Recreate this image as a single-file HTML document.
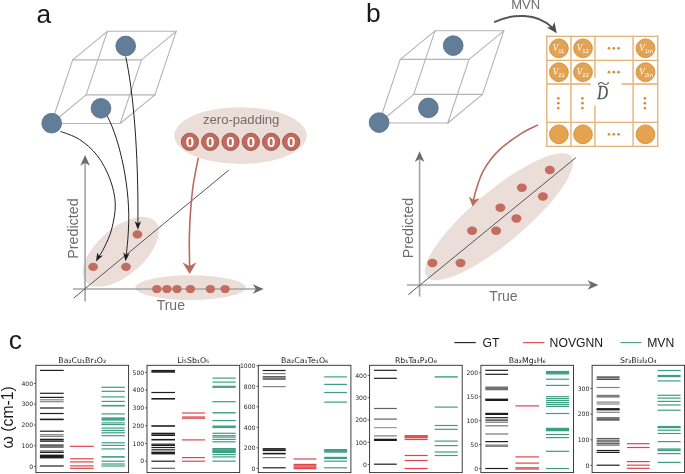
<!DOCTYPE html>
<html><head><meta charset="utf-8"><title>figure</title>
<style>
html,body{margin:0;padding:0;background:#fff;}
body{width:685px;height:474px;overflow:hidden;}
svg{display:block;}
.s{font-family:"Liberation Sans",sans-serif;}
.d{font-family:"DejaVu Sans","Liberation Sans",sans-serif;}
.m{font-family:"Liberation Serif",serif;font-style:italic;}
</style></head><body>
<svg width="685" height="474" viewBox="0 0 685 474">
<rect width="685" height="474" fill="#ffffff"/>
<!-- panel a -->
<text class="s" x="36.6" y="23.2" font-size="26.2" fill="#1a1a1a">a</text>
<g stroke="#b4b4b4" stroke-width="1.1" fill="none" stroke-linecap="round"><line x1="51.4" y1="123.5" x2="120.2" y2="123.5"/><line x1="86.1" y1="94.9" x2="154.9" y2="94.9"/><line x1="72.7" y1="59.9" x2="141.5" y2="59.9"/><line x1="107.4" y1="31.3" x2="176.2" y2="31.3"/><line x1="51.4" y1="123.5" x2="72.7" y2="59.9"/><line x1="86.1" y1="94.9" x2="107.4" y2="31.3"/><line x1="120.2" y1="123.5" x2="141.5" y2="59.9"/><line x1="154.9" y1="94.9" x2="176.2" y2="31.3"/><line x1="51.4" y1="123.5" x2="86.1" y2="94.9"/><line x1="72.7" y1="59.9" x2="107.4" y2="31.3"/><line x1="120.2" y1="123.5" x2="154.9" y2="94.9"/><line x1="141.5" y1="59.9" x2="176.2" y2="31.3"/></g>
<ellipse cx="120.8" cy="251.8" rx="46" ry="23.5" transform="rotate(-41 120.8 251.8)" fill="#ebddd8"/>
<ellipse cx="190.6" cy="287.6" rx="55.3" ry="12.3" fill="#ebddd8"/>
<ellipse cx="240.5" cy="135.6" rx="66.2" ry="28.4" fill="#ebddd8"/>
<g stroke="#a4a4a4" stroke-width="1.6" fill="none"><line x1="85.1" y1="301.4" x2="85.1" y2="163"/><line x1="72.9" y1="289" x2="256" y2="289"/></g>
<path d="M85.1 155 L89.9 165.8 L85.1 162.8 L80.3 165.8 Z" fill="#6c6c6c"/>
<path d="M263.6 289 L252.8 293.8 L255.8 289 L252.8 284.2 Z" fill="#6c6c6c"/>
<line x1="73.8" y1="298" x2="228.7" y2="170.2" stroke="#555" stroke-width="1"/>
<ellipse cx="93.1" cy="266.8" rx="4.9" ry="4.1" fill="#c36d61"/><ellipse cx="126.0" cy="266.8" rx="4.9" ry="4.1" fill="#c36d61"/><ellipse cx="137.4" cy="234.4" rx="4.9" ry="4.1" fill="#c36d61"/><ellipse cx="156.8" cy="289" rx="4.7" ry="4.1" fill="#c36d61"/><ellipse cx="166.9" cy="289" rx="4.7" ry="4.1" fill="#c36d61"/><ellipse cx="177.0" cy="289" rx="4.7" ry="4.1" fill="#c36d61"/><ellipse cx="190.4" cy="289" rx="4.7" ry="4.1" fill="#c36d61"/><ellipse cx="210.4" cy="289" rx="4.7" ry="4.1" fill="#c36d61"/><ellipse cx="225.1" cy="289" rx="4.7" ry="4.1" fill="#c36d61"/>
<g stroke="#222" stroke-width="1.0" fill="none"><path d="M60.5 131.4 C63.6 132.7 73.3 135.4 79.4 139.4 C85.5 143.4 92.2 149.0 97.3 155.6 C102.4 162.2 106.9 170.8 109.9 178.9 C112.9 187.0 115.0 195.6 115.3 203.9 C115.6 212.2 113.5 221.8 111.7 229.0 C109.9 236.2 106.7 242.2 104.5 247.0 C102.3 251.8 99.3 255.8 98.3 257.5"/><path d="M107.3 116.2 C120 140 131 190 128.4 230 C127.8 242 126.8 250 126 256.5"/><path d="M125.7 56.7 C133 90 138.6 150 137.9 225.5"/></g>
<path transform="translate(96.0 261.4) rotate(119.0)" d="M0 0 L-8.5 3.2 L-6.3 0 L-8.5 -3.2 Z" fill="#1c1c1c"/><path transform="translate(125.5 261.3) rotate(96.0)" d="M0 0 L-8.5 3.2 L-6.3 0 L-8.5 -3.2 Z" fill="#1c1c1c"/><path transform="translate(137.9 229.7) rotate(90.0)" d="M0 0 L-8.5 3.2 L-6.3 0 L-8.5 -3.2 Z" fill="#1c1c1c"/>
<circle cx="125.7" cy="46.0" r="9.9" fill="#627d97" stroke="#4f667c" stroke-width="0.7"/><circle cx="51.7" cy="123.2" r="9.9" fill="#627d97" stroke="#4f667c" stroke-width="0.7"/><circle cx="101.0" cy="108.3" r="9.9" fill="#627d97" stroke="#4f667c" stroke-width="0.7"/>
<text class="s" x="241.2" y="124" font-size="13.1" fill="#6e6e6e" text-anchor="middle">zero-padding</text>
<circle cx="189.9" cy="141.8" r="8.6" fill="#c16a5e" stroke="#99544b" stroke-width="0.9"/><text class="s" x="189.9" y="147.2" font-size="15" font-weight="bold" fill="#fff" text-anchor="middle">0</text><circle cx="210.2" cy="141.8" r="8.6" fill="#c16a5e" stroke="#99544b" stroke-width="0.9"/><text class="s" x="210.2" y="147.2" font-size="15" font-weight="bold" fill="#fff" text-anchor="middle">0</text><circle cx="230.5" cy="141.8" r="8.6" fill="#c16a5e" stroke="#99544b" stroke-width="0.9"/><text class="s" x="230.5" y="147.2" font-size="15" font-weight="bold" fill="#fff" text-anchor="middle">0</text><circle cx="250.8" cy="141.8" r="8.6" fill="#c16a5e" stroke="#99544b" stroke-width="0.9"/><text class="s" x="250.8" y="147.2" font-size="15" font-weight="bold" fill="#fff" text-anchor="middle">0</text><circle cx="271.1" cy="141.8" r="8.6" fill="#c16a5e" stroke="#99544b" stroke-width="0.9"/><text class="s" x="271.1" y="147.2" font-size="15" font-weight="bold" fill="#fff" text-anchor="middle">0</text><circle cx="291.2" cy="141.8" r="8.6" fill="#c16a5e" stroke="#99544b" stroke-width="0.9"/><text class="s" x="291.2" y="147.2" font-size="15" font-weight="bold" fill="#fff" text-anchor="middle">0</text>
<path d="M198.3 157.8 C197.5 162.3 194.5 176.0 193.2 185.0 C191.9 194.0 191.2 202.8 190.5 212.0 C189.8 221.2 189.5 231.0 189.3 240.0 C189.2 249.0 189.6 261.7 189.6 266.0" stroke="#b96b5e" stroke-width="1.6" fill="none"/>
<path transform="translate(189.7 273.9) rotate(89.0)" d="M0 0 L-11.5 7.0 L-8.0 0 L-11.5 -7.0 Z" fill="#b96b5e"/>
<text class="s" x="170.8" y="310.4" font-size="14" fill="#6e6e6e" text-anchor="middle">True</text>
<text class="s" transform="translate(77.6 228.6) rotate(-90)" font-size="14.3" fill="#6e6e6e" text-anchor="middle">Predicted</text>
<!-- panel b -->
<text class="s" x="366" y="21.6" font-size="26.4" fill="#1a1a1a">b</text>
<g stroke="#b4b4b4" stroke-width="1.1" fill="none" stroke-linecap="round"><line x1="379.0" y1="123.0" x2="447.8" y2="123.0"/><line x1="413.7" y1="94.4" x2="482.5" y2="94.4"/><line x1="400.3" y1="59.4" x2="469.1" y2="59.4"/><line x1="435.0" y1="30.8" x2="503.8" y2="30.8"/><line x1="379.0" y1="123.0" x2="400.3" y2="59.4"/><line x1="413.7" y1="94.4" x2="435.0" y2="30.8"/><line x1="447.8" y1="123.0" x2="469.1" y2="59.4"/><line x1="482.5" y1="94.4" x2="503.8" y2="30.8"/><line x1="379.0" y1="123.0" x2="413.7" y2="94.4"/><line x1="400.3" y1="59.4" x2="435.0" y2="30.8"/><line x1="447.8" y1="123.0" x2="482.5" y2="94.4"/><line x1="469.1" y1="59.4" x2="503.8" y2="30.8"/></g>
<ellipse cx="499" cy="216.8" rx="94" ry="26" transform="rotate(-39.9 499 216.8)" fill="#ebddd8"/>
<g stroke="#a4a4a4" stroke-width="1.6" fill="none"><line x1="419.6" y1="296.6" x2="419.6" y2="159"/><line x1="407" y1="285" x2="590" y2="285"/></g>
<path d="M419.6 151.3 L424.4 162.1 L419.6 159.1 L414.8 162.1 Z" fill="#6c6c6c"/>
<path d="M598.4 285 L587.6 289.8 L590.6 285 L587.6 280.2 Z" fill="#6c6c6c"/>
<line x1="408.3" y1="294.6" x2="575.9" y2="157.6" stroke="#555" stroke-width="1"/>
<ellipse cx="432.4" cy="263.0" rx="5" ry="4.2" fill="#c36d61"/><ellipse cx="460.5" cy="263.0" rx="5" ry="4.2" fill="#c36d61"/><ellipse cx="472.1" cy="230.7" rx="5" ry="4.2" fill="#c36d61"/><ellipse cx="496.1" cy="230.7" rx="5" ry="4.2" fill="#c36d61"/><ellipse cx="500.4" cy="207.7" rx="5" ry="4.2" fill="#c36d61"/><ellipse cx="516.4" cy="218.5" rx="5" ry="4.2" fill="#c36d61"/><ellipse cx="521.9" cy="187.7" rx="5" ry="4.2" fill="#c36d61"/><ellipse cx="542.9" cy="196.5" rx="5" ry="4.2" fill="#c36d61"/><ellipse cx="549.8" cy="170.0" rx="5" ry="4.2" fill="#c36d61"/>
<circle cx="453.2" cy="45.6" r="9.9" fill="#627d97" stroke="#4f667c" stroke-width="0.7"/><circle cx="379.1" cy="122.6" r="9.9" fill="#627d97" stroke="#4f667c" stroke-width="0.7"/><circle cx="428.4" cy="107.9" r="9.9" fill="#627d97" stroke="#4f667c" stroke-width="0.7"/>
<text class="s" x="525.7" y="8.6" font-size="13" fill="#6e6e6e" text-anchor="middle">MVN</text>
<path d="M494.2 22.2 C512 13.6 537 12.4 552 27.5" stroke="#555" stroke-width="2" fill="none"/>
<path transform="translate(556.8 33.2) rotate(54.0)" d="M0 0 L-10.5 4.7 L-7.7 0 L-10.5 -4.7 Z" fill="#4d4d4d"/>
<path d="M538.1 124.9 C535.3 126.3 528.0 129.1 521.5 133.3 C515.0 137.5 505.6 143.8 499.3 149.9 C493.0 156.0 487.7 163.2 483.8 169.9 C479.9 176.6 477.8 184.8 476.1 189.8 C474.4 194.8 474.0 198.3 473.6 200.0" stroke="#b96b5e" stroke-width="1.6" fill="none"/>
<path transform="translate(472.6 206.6) rotate(100.0)" d="M0 0 L-9.4 5.5 L-6.6 0 L-9.4 -5.5 Z" fill="#b96b5e"/>
<text class="s" x="503.5" y="301" font-size="14" fill="#6e6e6e" text-anchor="middle">True</text>
<text class="s" transform="translate(413.2 228.1) rotate(-90)" font-size="14.3" fill="#6e6e6e" text-anchor="middle">Predicted</text>
<g stroke="#e0a864" stroke-width="1.3" fill="none"><line x1="546.8" y1="35.6" x2="546.8" y2="147.0"/><line x1="570.9" y1="35.6" x2="570.9" y2="147.0"/><line x1="594.9" y1="35.6" x2="594.9" y2="147.0"/><line x1="633.1" y1="35.6" x2="633.1" y2="147.0"/><line x1="657.7" y1="35.6" x2="657.7" y2="147.0"/><line x1="546.1" y1="36.3" x2="658.4" y2="36.3"/><line x1="546.1" y1="60.3" x2="658.4" y2="60.3"/><line x1="546.1" y1="84.0" x2="658.4" y2="84.0"/><line x1="546.1" y1="122.3" x2="658.4" y2="122.3"/><line x1="546.1" y1="146.3" x2="658.4" y2="146.3"/></g>
<g stroke="#f3dcbd" stroke-width="0.3" fill="none"><line x1="546.8" y1="36.1" x2="546.8" y2="146.5"/><line x1="570.9" y1="36.1" x2="570.9" y2="146.5"/><line x1="594.9" y1="36.1" x2="594.9" y2="146.5"/><line x1="633.1" y1="36.1" x2="633.1" y2="146.5"/><line x1="657.7" y1="36.1" x2="657.7" y2="146.5"/><line x1="546.6" y1="36.3" x2="657.9" y2="36.3"/><line x1="546.6" y1="60.3" x2="657.9" y2="60.3"/><line x1="546.6" y1="84.0" x2="657.9" y2="84.0"/><line x1="546.6" y1="122.3" x2="657.9" y2="122.3"/><line x1="546.6" y1="146.3" x2="657.9" y2="146.3"/></g>
<rect x="590.8" y="77.9" width="30.6" height="27.5" fill="#fff"/>
<circle cx="558.9" cy="48.3" r="9.4" fill="#e3a350" stroke="#c98a36" stroke-width="0.8"/><circle cx="583.0" cy="48.3" r="9.4" fill="#e3a350" stroke="#c98a36" stroke-width="0.8"/><circle cx="645.5" cy="48.3" r="9.4" fill="#e3a350" stroke="#c98a36" stroke-width="0.8"/><circle cx="558.9" cy="72.2" r="9.4" fill="#e3a350" stroke="#c98a36" stroke-width="0.8"/><circle cx="583.0" cy="72.2" r="9.4" fill="#e3a350" stroke="#c98a36" stroke-width="0.8"/><circle cx="645.5" cy="72.2" r="9.4" fill="#e3a350" stroke="#c98a36" stroke-width="0.8"/><circle cx="558.9" cy="134.3" r="9.4" fill="#e3a350" stroke="#c98a36" stroke-width="0.8"/><circle cx="583.0" cy="134.3" r="9.4" fill="#e3a350" stroke="#c98a36" stroke-width="0.8"/><circle cx="645.5" cy="134.3" r="9.4" fill="#e3a350" stroke="#c98a36" stroke-width="0.8"/>
<text class="m" transform="translate(552.7 51.2) scale(0.84 1)" font-size="10.6" fill="#fff">V</text><text class="s" x="558.2" y="53.3" font-size="5.9" fill="#fff">11</text><text class="m" transform="translate(576.8 51.2) scale(0.84 1)" font-size="10.6" fill="#fff">V</text><text class="s" x="582.3" y="53.3" font-size="5.9" fill="#fff">12</text><text class="m" transform="translate(639.3 51.2) scale(0.84 1)" font-size="10.6" fill="#fff">V</text><text class="s" x="644.8" y="53.3" font-size="5.9" fill="#fff">1m</text><text class="m" transform="translate(552.7 75.1) scale(0.84 1)" font-size="10.6" fill="#fff">V</text><text class="s" x="558.2" y="77.2" font-size="5.9" fill="#fff">21</text><text class="m" transform="translate(576.8 75.1) scale(0.84 1)" font-size="10.6" fill="#fff">V</text><text class="s" x="582.3" y="77.2" font-size="5.9" fill="#fff">22</text><text class="m" transform="translate(639.3 75.1) scale(0.84 1)" font-size="10.6" fill="#fff">V</text><text class="s" x="644.8" y="77.2" font-size="5.9" fill="#fff">2m</text>
<g fill="#d08f3c"><circle cx="609.0" cy="48.3" r="1.35"/><circle cx="613.8" cy="48.3" r="1.35"/><circle cx="618.6" cy="48.3" r="1.35"/><circle cx="609.0" cy="72.2" r="1.35"/><circle cx="613.8" cy="72.2" r="1.35"/><circle cx="618.6" cy="72.2" r="1.35"/><circle cx="609.0" cy="134.3" r="1.35"/><circle cx="613.8" cy="134.3" r="1.35"/><circle cx="618.6" cy="134.3" r="1.35"/><circle cx="558.3" cy="98.3" r="1.35"/><circle cx="558.3" cy="103.2" r="1.35"/><circle cx="558.3" cy="108.1" r="1.35"/><circle cx="582.4" cy="98.3" r="1.35"/><circle cx="582.4" cy="103.2" r="1.35"/><circle cx="582.4" cy="108.1" r="1.35"/><circle cx="644.9" cy="98.3" r="1.35"/><circle cx="644.9" cy="103.2" r="1.35"/><circle cx="644.9" cy="108.1" r="1.35"/></g>
<text class="m" transform="translate(597.2 99) scale(0.8 1)" font-size="18.6" fill="#555" stroke="#555" stroke-width="0.35">D</text>
<text class="m" transform="translate(603.2 89.2) scale(1.42 1.0)" font-size="16" fill="#555" font-style="normal" text-anchor="middle">~</text>
<!-- panel c -->
<text class="s" x="8.8" y="348.6" font-size="26.4" fill="#1a1a1a">c</text>
<text class="s" transform="translate(12.7 417.3) rotate(-90)" font-size="15.8" fill="#1a1a1a" text-anchor="middle">ω (cm-1)</text>
<line x1="454.3" y1="342.6" x2="475.8" y2="342.6" stroke="#1a1a1a" stroke-width="1.1"/><text class="s" x="482.6" y="347" font-size="12.2" fill="#1a1a1a">GT</text><line x1="523.0" y1="342.6" x2="544.4" y2="342.6" stroke="#e0474c" stroke-width="1.1"/><text class="s" x="549.6" y="347" font-size="12.2" fill="#1a1a1a">NOVGNN</text><line x1="620.6" y1="342.6" x2="641.4" y2="342.6" stroke="#3f9f83" stroke-width="1.1"/><text class="s" x="647.2" y="347" font-size="12.2" fill="#1a1a1a">MVN</text>
<g><rect x="35.9" y="365.3" width="92.7" height="107.3" fill="#fff" stroke="#2a2a2a" stroke-width="0.9"/><text class="d" x="82.2" y="363.1" font-size="7.8" fill="#1a1a1a" text-anchor="middle">Ba₂Cu₁Br₁O₂</text><line x1="34.0" y1="466.5" x2="35.9" y2="466.5" stroke="#2a2a2a" stroke-width="0.7"/><text class="d" x="33.1" y="468.7" font-size="6.1" fill="#262626" text-anchor="end">0</text><line x1="34.0" y1="445.8" x2="35.9" y2="445.8" stroke="#2a2a2a" stroke-width="0.7"/><text class="d" x="33.1" y="447.9" font-size="6.1" fill="#262626" text-anchor="end">100</text><line x1="34.0" y1="425.0" x2="35.9" y2="425.0" stroke="#2a2a2a" stroke-width="0.7"/><text class="d" x="33.1" y="427.2" font-size="6.1" fill="#262626" text-anchor="end">200</text><line x1="34.0" y1="404.2" x2="35.9" y2="404.2" stroke="#2a2a2a" stroke-width="0.7"/><text class="d" x="33.1" y="406.4" font-size="6.1" fill="#262626" text-anchor="end">300</text><line x1="34.0" y1="383.5" x2="35.9" y2="383.5" stroke="#2a2a2a" stroke-width="0.7"/><text class="d" x="33.1" y="385.7" font-size="6.1" fill="#262626" text-anchor="end">400</text><line x1="39.9" y1="370.40" x2="63.7" y2="370.40" stroke="#1e1e1e" stroke-width="1.2"/><line x1="39.9" y1="393.30" x2="63.7" y2="393.30" stroke="#1e1e1e" stroke-width="1.2"/><line x1="39.9" y1="397.40" x2="63.7" y2="397.40" stroke="#1e1e1e" stroke-width="1.2"/><line x1="39.9" y1="399.80" x2="63.7" y2="399.80" stroke="#1e1e1e" stroke-width="1.2" stroke-opacity="0.55"/><line x1="39.9" y1="401.70" x2="63.7" y2="401.70" stroke="#1e1e1e" stroke-width="1.2" stroke-opacity="0.55"/><line x1="39.9" y1="408.00" x2="63.7" y2="408.00" stroke="#1e1e1e" stroke-width="1.2"/><line x1="39.9" y1="413.50" x2="63.7" y2="413.50" stroke="#1e1e1e" stroke-width="1.2"/><line x1="39.9" y1="419.40" x2="63.7" y2="419.40" stroke="#1e1e1e" stroke-width="1.6"/><line x1="39.9" y1="431.20" x2="63.7" y2="431.20" stroke="#1e1e1e" stroke-width="1.2"/><line x1="39.9" y1="434.70" x2="63.7" y2="434.70" stroke="#1e1e1e" stroke-width="1.2" stroke-opacity="0.55"/><line x1="39.9" y1="436.40" x2="63.7" y2="436.40" stroke="#1e1e1e" stroke-width="1.2" stroke-opacity="0.55"/><line x1="39.9" y1="439.40" x2="63.7" y2="439.40" stroke="#1e1e1e" stroke-width="1.4"/><line x1="39.9" y1="441.10" x2="63.7" y2="441.10" stroke="#1e1e1e" stroke-width="1.4"/><line x1="39.9" y1="445.10" x2="63.7" y2="445.10" stroke="#1e1e1e" stroke-width="1.2"/><line x1="39.9" y1="447.00" x2="63.7" y2="447.00" stroke="#1e1e1e" stroke-width="1.2"/><line x1="39.9" y1="451.00" x2="63.7" y2="451.00" stroke="#1e1e1e" stroke-width="1.2" stroke-opacity="0.75"/><line x1="39.9" y1="452.40" x2="63.7" y2="452.40" stroke="#1e1e1e" stroke-width="1.2"/><line x1="39.9" y1="455.30" x2="63.7" y2="455.30" stroke="#1e1e1e" stroke-width="1.4"/><line x1="39.9" y1="456.50" x2="63.7" y2="456.50" stroke="#1e1e1e" stroke-width="1.4"/><line x1="39.9" y1="457.70" x2="63.7" y2="457.70" stroke="#1e1e1e" stroke-width="1.4"/><line x1="39.9" y1="466.00" x2="63.7" y2="466.00" stroke="#1e1e1e" stroke-width="1.2"/><line x1="70.1" y1="446.30" x2="93.7" y2="446.30" stroke="#e0444a" stroke-width="1.2"/><line x1="70.1" y1="458.80" x2="93.7" y2="458.80" stroke="#e0444a" stroke-width="1.2"/><line x1="70.1" y1="461.90" x2="93.7" y2="461.90" stroke="#e0444a" stroke-width="1.2"/><line x1="70.1" y1="465.90" x2="93.7" y2="465.90" stroke="#e0444a" stroke-width="1.2"/><line x1="70.1" y1="468.30" x2="93.7" y2="468.30" stroke="#e0444a" stroke-width="1.2"/><line x1="101.5" y1="387.30" x2="124.8" y2="387.30" stroke="#3c9f82" stroke-width="1.2"/><line x1="101.5" y1="391.30" x2="124.8" y2="391.30" stroke="#3c9f82" stroke-width="1.2"/><line x1="101.5" y1="396.90" x2="124.8" y2="396.90" stroke="#3c9f82" stroke-width="1.2"/><line x1="101.5" y1="401.40" x2="124.8" y2="401.40" stroke="#3c9f82" stroke-width="1.2"/><line x1="101.5" y1="405.70" x2="124.8" y2="405.70" stroke="#3c9f82" stroke-width="1.6"/><line x1="101.5" y1="413.90" x2="124.8" y2="413.90" stroke="#3c9f82" stroke-width="1.2"/><line x1="101.5" y1="418.20" x2="124.8" y2="418.20" stroke="#3c9f82" stroke-width="1.6"/><line x1="101.5" y1="419.90" x2="124.8" y2="419.90" stroke="#3c9f82" stroke-width="1.6"/><line x1="101.5" y1="422.90" x2="124.8" y2="422.90" stroke="#3c9f82" stroke-width="1.2"/><line x1="101.5" y1="424.60" x2="124.8" y2="424.60" stroke="#3c9f82" stroke-width="1.2"/><line x1="101.5" y1="428.10" x2="124.8" y2="428.10" stroke="#3c9f82" stroke-width="1.2"/><line x1="101.5" y1="430.50" x2="124.8" y2="430.50" stroke="#3c9f82" stroke-width="1.2"/><line x1="101.5" y1="432.80" x2="124.8" y2="432.80" stroke="#3c9f82" stroke-width="1.2"/><line x1="101.5" y1="435.70" x2="124.8" y2="435.70" stroke="#3c9f82" stroke-width="1.2"/><line x1="101.5" y1="442.80" x2="124.8" y2="442.80" stroke="#3c9f82" stroke-width="1.2"/><line x1="101.5" y1="445.40" x2="124.8" y2="445.40" stroke="#3c9f82" stroke-width="1.2"/><line x1="101.5" y1="448.90" x2="124.8" y2="448.90" stroke="#3c9f82" stroke-width="1.2"/><line x1="101.5" y1="456.90" x2="124.8" y2="456.90" stroke="#3c9f82" stroke-width="1.6"/><line x1="101.5" y1="461.20" x2="124.8" y2="461.20" stroke="#3c9f82" stroke-width="1.2"/><line x1="101.5" y1="464.00" x2="124.8" y2="464.00" stroke="#3c9f82" stroke-width="1.2"/><line x1="101.5" y1="466.00" x2="124.8" y2="466.00" stroke="#3c9f82" stroke-width="1.2"/></g>
<g><rect x="147.0" y="365.3" width="92.7" height="107.3" fill="#fff" stroke="#2a2a2a" stroke-width="0.9"/><text class="d" x="193.3" y="363.1" font-size="7.8" fill="#1a1a1a" text-anchor="middle">Li₅Sb₁O₅</text><line x1="145.1" y1="461.2" x2="147.0" y2="461.2" stroke="#2a2a2a" stroke-width="0.7"/><text class="d" x="144.2" y="463.4" font-size="6.1" fill="#262626" text-anchor="end">0</text><line x1="145.1" y1="443.4" x2="147.0" y2="443.4" stroke="#2a2a2a" stroke-width="0.7"/><text class="d" x="144.2" y="445.6" font-size="6.1" fill="#262626" text-anchor="end">100</text><line x1="145.1" y1="425.7" x2="147.0" y2="425.7" stroke="#2a2a2a" stroke-width="0.7"/><text class="d" x="144.2" y="427.9" font-size="6.1" fill="#262626" text-anchor="end">200</text><line x1="145.1" y1="407.9" x2="147.0" y2="407.9" stroke="#2a2a2a" stroke-width="0.7"/><text class="d" x="144.2" y="410.1" font-size="6.1" fill="#262626" text-anchor="end">300</text><line x1="145.1" y1="390.1" x2="147.0" y2="390.1" stroke="#2a2a2a" stroke-width="0.7"/><text class="d" x="144.2" y="392.3" font-size="6.1" fill="#262626" text-anchor="end">400</text><line x1="145.1" y1="372.4" x2="147.0" y2="372.4" stroke="#2a2a2a" stroke-width="0.7"/><text class="d" x="144.2" y="374.6" font-size="6.1" fill="#262626" text-anchor="end">500</text><line x1="151.4" y1="370.70" x2="175.0" y2="370.70" stroke="#1e1e1e" stroke-width="1.6"/><line x1="151.4" y1="371.90" x2="175.0" y2="371.90" stroke="#1e1e1e" stroke-width="1.6"/><line x1="151.4" y1="392.50" x2="175.0" y2="392.50" stroke="#1e1e1e" stroke-width="1.2"/><line x1="151.4" y1="398.80" x2="175.0" y2="398.80" stroke="#1e1e1e" stroke-width="1.6"/><line x1="151.4" y1="426.00" x2="175.0" y2="426.00" stroke="#1e1e1e" stroke-width="1.6"/><line x1="151.4" y1="433.50" x2="175.0" y2="433.50" stroke="#1e1e1e" stroke-width="1.6"/><line x1="151.4" y1="435.20" x2="175.0" y2="435.20" stroke="#1e1e1e" stroke-width="1.6"/><line x1="151.4" y1="439.70" x2="175.0" y2="439.70" stroke="#1e1e1e" stroke-width="1.6"/><line x1="151.4" y1="444.20" x2="175.0" y2="444.20" stroke="#1e1e1e" stroke-width="1.2"/><line x1="151.4" y1="445.40" x2="175.0" y2="445.40" stroke="#1e1e1e" stroke-width="1.2"/><line x1="151.4" y1="447.50" x2="175.0" y2="447.50" stroke="#1e1e1e" stroke-width="1.2"/><line x1="151.4" y1="449.80" x2="175.0" y2="449.80" stroke="#1e1e1e" stroke-width="1.2"/><line x1="151.4" y1="452.40" x2="175.0" y2="452.40" stroke="#1e1e1e" stroke-width="1.6"/><line x1="151.4" y1="453.60" x2="175.0" y2="453.60" stroke="#1e1e1e" stroke-width="1.6"/><line x1="151.4" y1="461.20" x2="175.0" y2="461.20" stroke="#1e1e1e" stroke-width="1.2"/><line x1="151.4" y1="468.30" x2="175.0" y2="468.30" stroke="#1e1e1e" stroke-width="1.2" stroke-opacity="0.70"/><line x1="182.0" y1="413.00" x2="205.0" y2="413.00" stroke="#e0444a" stroke-width="1.2"/><line x1="182.0" y1="417.00" x2="205.0" y2="417.00" stroke="#e0444a" stroke-width="1.2"/><line x1="182.0" y1="418.20" x2="205.0" y2="418.20" stroke="#e0444a" stroke-width="1.2"/><line x1="182.0" y1="439.90" x2="205.0" y2="439.90" stroke="#e0444a" stroke-width="1.2"/><line x1="182.0" y1="457.60" x2="205.0" y2="457.60" stroke="#e0444a" stroke-width="1.2"/><line x1="182.0" y1="461.20" x2="205.0" y2="461.20" stroke="#e0444a" stroke-width="1.2"/><line x1="212.4" y1="378.10" x2="235.7" y2="378.10" stroke="#3c9f82" stroke-width="1.2"/><line x1="212.4" y1="382.10" x2="235.7" y2="382.10" stroke="#3c9f82" stroke-width="1.2"/><line x1="212.4" y1="386.30" x2="235.7" y2="386.30" stroke="#3c9f82" stroke-width="1.2"/><line x1="212.4" y1="387.30" x2="235.7" y2="387.30" stroke="#3c9f82" stroke-width="1.2"/><line x1="212.4" y1="401.70" x2="235.7" y2="401.70" stroke="#3c9f82" stroke-width="1.2"/><line x1="212.4" y1="412.80" x2="235.7" y2="412.80" stroke="#3c9f82" stroke-width="1.4"/><line x1="212.4" y1="420.60" x2="235.7" y2="420.60" stroke="#3c9f82" stroke-width="1.2"/><line x1="212.4" y1="426.20" x2="235.7" y2="426.20" stroke="#3c9f82" stroke-width="1.4"/><line x1="212.4" y1="427.40" x2="235.7" y2="427.40" stroke="#3c9f82" stroke-width="1.4"/><line x1="212.4" y1="433.30" x2="235.7" y2="433.30" stroke="#3c9f82" stroke-width="1.2"/><line x1="212.4" y1="435.70" x2="235.7" y2="435.70" stroke="#3c9f82" stroke-width="1.2"/><line x1="212.4" y1="437.10" x2="235.7" y2="437.10" stroke="#3c9f82" stroke-width="1.2"/><line x1="212.4" y1="439.40" x2="235.7" y2="439.40" stroke="#3c9f82" stroke-width="1.2"/><line x1="212.4" y1="441.80" x2="235.7" y2="441.80" stroke="#3c9f82" stroke-width="1.2"/><line x1="212.4" y1="448.80" x2="235.7" y2="448.80" stroke="#3c9f82" stroke-width="1.6"/><line x1="212.4" y1="450.00" x2="235.7" y2="450.00" stroke="#3c9f82" stroke-width="1.6"/><line x1="212.4" y1="451.20" x2="235.7" y2="451.20" stroke="#3c9f82" stroke-width="1.6"/><line x1="212.4" y1="452.30" x2="235.7" y2="452.30" stroke="#3c9f82" stroke-width="1.4"/><line x1="212.4" y1="454.60" x2="235.7" y2="454.60" stroke="#3c9f82" stroke-width="1.2"/><line x1="212.4" y1="456.90" x2="235.7" y2="456.90" stroke="#3c9f82" stroke-width="1.2"/><line x1="212.4" y1="461.20" x2="235.7" y2="461.20" stroke="#3c9f82" stroke-width="1.2"/></g>
<g><rect x="258.3" y="365.3" width="92.6" height="107.3" fill="#fff" stroke="#2a2a2a" stroke-width="0.9"/><text class="d" x="304.6" y="363.1" font-size="7.8" fill="#1a1a1a" text-anchor="middle">Ba₂Ca₁Te₁O₆</text><line x1="256.4" y1="468.3" x2="258.3" y2="468.3" stroke="#2a2a2a" stroke-width="0.7"/><text class="d" x="255.5" y="470.5" font-size="6.1" fill="#262626" text-anchor="end">0</text><line x1="256.4" y1="447.8" x2="258.3" y2="447.8" stroke="#2a2a2a" stroke-width="0.7"/><text class="d" x="255.5" y="450.0" font-size="6.1" fill="#262626" text-anchor="end">200</text><line x1="256.4" y1="427.3" x2="258.3" y2="427.3" stroke="#2a2a2a" stroke-width="0.7"/><text class="d" x="255.5" y="429.5" font-size="6.1" fill="#262626" text-anchor="end">400</text><line x1="256.4" y1="406.8" x2="258.3" y2="406.8" stroke="#2a2a2a" stroke-width="0.7"/><text class="d" x="255.5" y="409.0" font-size="6.1" fill="#262626" text-anchor="end">600</text><line x1="256.4" y1="386.3" x2="258.3" y2="386.3" stroke="#2a2a2a" stroke-width="0.7"/><text class="d" x="255.5" y="388.5" font-size="6.1" fill="#262626" text-anchor="end">800</text><line x1="256.4" y1="365.8" x2="258.3" y2="365.8" stroke="#2a2a2a" stroke-width="0.7"/><text class="d" x="255.5" y="367.9" font-size="6.1" fill="#262626" text-anchor="end">1000</text><line x1="262.7" y1="370.50" x2="285.7" y2="370.50" stroke="#1e1e1e" stroke-width="1.2"/><line x1="262.7" y1="373.60" x2="285.7" y2="373.60" stroke="#1e1e1e" stroke-width="1.2" stroke-opacity="0.55"/><line x1="262.7" y1="376.90" x2="285.7" y2="376.90" stroke="#1e1e1e" stroke-width="1.2"/><line x1="262.7" y1="379.00" x2="285.7" y2="379.00" stroke="#1e1e1e" stroke-width="1.2"/><line x1="262.7" y1="386.60" x2="285.7" y2="386.60" stroke="#1e1e1e" stroke-width="1.2" stroke-opacity="0.55"/><line x1="262.7" y1="448.90" x2="285.7" y2="448.90" stroke="#1e1e1e" stroke-width="1.6"/><line x1="262.7" y1="450.30" x2="285.7" y2="450.30" stroke="#1e1e1e" stroke-width="1.6"/><line x1="262.7" y1="453.60" x2="285.7" y2="453.60" stroke="#1e1e1e" stroke-width="1.6"/><line x1="262.7" y1="457.60" x2="285.7" y2="457.60" stroke="#1e1e1e" stroke-width="1.2" stroke-opacity="0.55"/><line x1="262.7" y1="467.80" x2="285.7" y2="467.80" stroke="#1e1e1e" stroke-width="1.2"/><line x1="293.6" y1="459.00" x2="316.4" y2="459.00" stroke="#e0444a" stroke-width="1.2"/><line x1="293.6" y1="464.60" x2="316.4" y2="464.60" stroke="#e0444a" stroke-width="1.6"/><line x1="293.6" y1="465.90" x2="316.4" y2="465.90" stroke="#e0444a" stroke-width="1.6" stroke-opacity="0.75"/><line x1="293.6" y1="467.20" x2="316.4" y2="467.20" stroke="#e0444a" stroke-width="1.6" stroke-opacity="0.75"/><line x1="293.6" y1="468.40" x2="316.4" y2="468.40" stroke="#e0444a" stroke-width="1.6"/><line x1="324.2" y1="376.90" x2="347.0" y2="376.90" stroke="#3c9f82" stroke-width="1.2"/><line x1="324.2" y1="384.40" x2="347.0" y2="384.40" stroke="#3c9f82" stroke-width="1.2"/><line x1="324.2" y1="392.50" x2="347.0" y2="392.50" stroke="#3c9f82" stroke-width="1.2"/><line x1="324.2" y1="402.10" x2="347.0" y2="402.10" stroke="#3c9f82" stroke-width="1.2"/><line x1="324.2" y1="449.80" x2="347.0" y2="449.80" stroke="#3c9f82" stroke-width="1.6"/><line x1="324.2" y1="450.90" x2="347.0" y2="450.90" stroke="#3c9f82" stroke-width="1.6"/><line x1="324.2" y1="451.90" x2="347.0" y2="451.90" stroke="#3c9f82" stroke-width="1.6"/><line x1="324.2" y1="457.40" x2="347.0" y2="457.40" stroke="#3c9f82" stroke-width="1.2"/><line x1="324.2" y1="458.40" x2="347.0" y2="458.40" stroke="#3c9f82" stroke-width="1.2"/><line x1="324.2" y1="461.20" x2="347.0" y2="461.20" stroke="#3c9f82" stroke-width="1.2"/><line x1="324.2" y1="467.80" x2="347.0" y2="467.80" stroke="#3c9f82" stroke-width="1.2"/></g>
<g><rect x="369.6" y="365.3" width="92.6" height="107.3" fill="#fff" stroke="#2a2a2a" stroke-width="0.9"/><text class="d" x="415.9" y="363.1" font-size="7.8" fill="#1a1a1a" text-anchor="middle">Rb₁Ta₁P₂O₈</text><line x1="367.7" y1="464.6" x2="369.6" y2="464.6" stroke="#2a2a2a" stroke-width="0.7"/><text class="d" x="366.8" y="466.8" font-size="6.1" fill="#262626" text-anchor="end">0</text><line x1="367.7" y1="442.3" x2="369.6" y2="442.3" stroke="#2a2a2a" stroke-width="0.7"/><text class="d" x="366.8" y="444.5" font-size="6.1" fill="#262626" text-anchor="end">100</text><line x1="367.7" y1="420.0" x2="369.6" y2="420.0" stroke="#2a2a2a" stroke-width="0.7"/><text class="d" x="366.8" y="422.2" font-size="6.1" fill="#262626" text-anchor="end">200</text><line x1="367.7" y1="397.7" x2="369.6" y2="397.7" stroke="#2a2a2a" stroke-width="0.7"/><text class="d" x="366.8" y="399.9" font-size="6.1" fill="#262626" text-anchor="end">300</text><line x1="367.7" y1="375.4" x2="369.6" y2="375.4" stroke="#2a2a2a" stroke-width="0.7"/><text class="d" x="366.8" y="377.6" font-size="6.1" fill="#262626" text-anchor="end">400</text><line x1="374.0" y1="370.30" x2="396.8" y2="370.30" stroke="#1e1e1e" stroke-width="1.2"/><line x1="374.0" y1="378.30" x2="396.8" y2="378.30" stroke="#1e1e1e" stroke-width="1.2"/><line x1="374.0" y1="408.50" x2="396.8" y2="408.50" stroke="#1e1e1e" stroke-width="1.2" stroke-opacity="0.70"/><line x1="374.0" y1="419.10" x2="396.8" y2="419.10" stroke="#1e1e1e" stroke-width="1.2" stroke-opacity="0.70"/><line x1="374.0" y1="427.60" x2="396.8" y2="427.60" stroke="#1e1e1e" stroke-width="1.2" stroke-opacity="0.45"/><line x1="374.0" y1="435.90" x2="396.8" y2="435.90" stroke="#1e1e1e" stroke-width="1.2" stroke-opacity="0.60"/><line x1="374.0" y1="439.40" x2="396.8" y2="439.40" stroke="#1e1e1e" stroke-width="1.4"/><line x1="374.0" y1="440.30" x2="396.8" y2="440.30" stroke="#1e1e1e" stroke-width="1.4"/><line x1="374.0" y1="464.20" x2="396.8" y2="464.20" stroke="#1e1e1e" stroke-width="1.2"/><line x1="404.6" y1="435.80" x2="427.7" y2="435.80" stroke="#e0444a" stroke-width="1.4"/><line x1="404.6" y1="436.80" x2="427.7" y2="436.80" stroke="#e0444a" stroke-width="1.4"/><line x1="404.6" y1="437.70" x2="427.7" y2="437.70" stroke="#e0444a" stroke-width="1.2"/><line x1="404.6" y1="439.50" x2="427.7" y2="439.50" stroke="#e0444a" stroke-width="1.2"/><line x1="404.6" y1="455.50" x2="427.7" y2="455.50" stroke="#e0444a" stroke-width="1.2"/><line x1="404.6" y1="460.50" x2="427.7" y2="460.50" stroke="#e0444a" stroke-width="1.2"/><line x1="404.6" y1="468.50" x2="427.7" y2="468.50" stroke="#e0444a" stroke-width="1.2"/><line x1="434.7" y1="376.90" x2="457.8" y2="376.90" stroke="#3c9f82" stroke-width="1.4"/><line x1="434.7" y1="407.10" x2="457.8" y2="407.10" stroke="#3c9f82" stroke-width="1.2"/><line x1="434.7" y1="425.50" x2="457.8" y2="425.50" stroke="#3c9f82" stroke-width="1.2"/><line x1="434.7" y1="429.30" x2="457.8" y2="429.30" stroke="#3c9f82" stroke-width="1.2"/><line x1="434.7" y1="441.10" x2="457.8" y2="441.10" stroke="#3c9f82" stroke-width="1.2"/><line x1="434.7" y1="445.60" x2="457.8" y2="445.60" stroke="#3c9f82" stroke-width="1.2"/><line x1="434.7" y1="452.00" x2="457.8" y2="452.00" stroke="#3c9f82" stroke-width="1.2"/><line x1="434.7" y1="455.50" x2="457.8" y2="455.50" stroke="#3c9f82" stroke-width="1.2"/></g>
<g><rect x="480.9" y="365.3" width="92.6" height="107.3" fill="#fff" stroke="#2a2a2a" stroke-width="0.9"/><text class="d" x="527.2" y="363.1" font-size="7.8" fill="#1a1a1a" text-anchor="middle">Ba₂Mg₁H₆</text><line x1="479.0" y1="468.6" x2="480.9" y2="468.6" stroke="#2a2a2a" stroke-width="0.7"/><text class="d" x="478.1" y="470.8" font-size="6.1" fill="#262626" text-anchor="end">0</text><line x1="479.0" y1="444.7" x2="480.9" y2="444.7" stroke="#2a2a2a" stroke-width="0.7"/><text class="d" x="478.1" y="446.9" font-size="6.1" fill="#262626" text-anchor="end">50</text><line x1="479.0" y1="420.7" x2="480.9" y2="420.7" stroke="#2a2a2a" stroke-width="0.7"/><text class="d" x="478.1" y="422.9" font-size="6.1" fill="#262626" text-anchor="end">100</text><line x1="479.0" y1="396.8" x2="480.9" y2="396.8" stroke="#2a2a2a" stroke-width="0.7"/><text class="d" x="478.1" y="398.9" font-size="6.1" fill="#262626" text-anchor="end">150</text><line x1="479.0" y1="372.8" x2="480.9" y2="372.8" stroke="#2a2a2a" stroke-width="0.7"/><text class="d" x="478.1" y="375.0" font-size="6.1" fill="#262626" text-anchor="end">200</text><line x1="485.3" y1="370.30" x2="508.1" y2="370.30" stroke="#1e1e1e" stroke-width="1.2"/><line x1="485.3" y1="374.30" x2="508.1" y2="374.30" stroke="#1e1e1e" stroke-width="1.2"/><line x1="485.3" y1="387.20" x2="508.1" y2="387.20" stroke="#1e1e1e" stroke-width="1.4" stroke-opacity="0.60"/><line x1="485.3" y1="388.40" x2="508.1" y2="388.40" stroke="#1e1e1e" stroke-width="1.4" stroke-opacity="0.60"/><line x1="485.3" y1="389.60" x2="508.1" y2="389.60" stroke="#1e1e1e" stroke-width="1.4" stroke-opacity="0.60"/><line x1="485.3" y1="399.30" x2="508.1" y2="399.30" stroke="#1e1e1e" stroke-width="1.4"/><line x1="485.3" y1="400.30" x2="508.1" y2="400.30" stroke="#1e1e1e" stroke-width="1.4"/><line x1="485.3" y1="413.50" x2="508.1" y2="413.50" stroke="#1e1e1e" stroke-width="1.4"/><line x1="485.3" y1="414.40" x2="508.1" y2="414.40" stroke="#1e1e1e" stroke-width="1.2"/><line x1="485.3" y1="417.70" x2="508.1" y2="417.70" stroke="#1e1e1e" stroke-width="1.2"/><line x1="485.3" y1="420.10" x2="508.1" y2="420.10" stroke="#1e1e1e" stroke-width="1.2"/><line x1="485.3" y1="422.20" x2="508.1" y2="422.20" stroke="#1e1e1e" stroke-width="1.2" stroke-opacity="0.60"/><line x1="485.3" y1="425.80" x2="508.1" y2="425.80" stroke="#1e1e1e" stroke-width="1.2" stroke-opacity="0.60"/><line x1="485.3" y1="434.00" x2="508.1" y2="434.00" stroke="#1e1e1e" stroke-width="1.2" stroke-opacity="0.60"/><line x1="485.3" y1="441.60" x2="508.1" y2="441.60" stroke="#1e1e1e" stroke-width="1.2"/><line x1="485.3" y1="445.10" x2="508.1" y2="445.10" stroke="#1e1e1e" stroke-width="1.2" stroke-opacity="0.60"/><line x1="485.3" y1="446.30" x2="508.1" y2="446.30" stroke="#1e1e1e" stroke-width="1.2" stroke-opacity="0.60"/><line x1="485.3" y1="468.50" x2="508.1" y2="468.50" stroke="#1e1e1e" stroke-width="1.2"/><line x1="515.4" y1="405.90" x2="539.0" y2="405.90" stroke="#e0444a" stroke-width="1.2"/><line x1="515.4" y1="456.90" x2="539.0" y2="456.90" stroke="#e0444a" stroke-width="1.2"/><line x1="515.4" y1="463.10" x2="539.0" y2="463.10" stroke="#e0444a" stroke-width="1.2"/><line x1="515.4" y1="467.80" x2="539.0" y2="467.80" stroke="#e0444a" stroke-width="1.2"/><line x1="515.4" y1="469.00" x2="539.0" y2="469.00" stroke="#e0444a" stroke-width="1.2"/><line x1="546.0" y1="371.60" x2="569.1" y2="371.60" stroke="#3c9f82" stroke-width="1.4"/><line x1="546.0" y1="372.70" x2="569.1" y2="372.70" stroke="#3c9f82" stroke-width="1.4"/><line x1="546.0" y1="373.80" x2="569.1" y2="373.80" stroke="#3c9f82" stroke-width="1.4"/><line x1="546.0" y1="379.20" x2="569.1" y2="379.20" stroke="#3c9f82" stroke-width="1.2"/><line x1="546.0" y1="385.40" x2="569.1" y2="385.40" stroke="#3c9f82" stroke-width="1.2"/><line x1="546.0" y1="396.70" x2="569.1" y2="396.70" stroke="#3c9f82" stroke-width="1.2"/><line x1="546.0" y1="398.60" x2="569.1" y2="398.60" stroke="#3c9f82" stroke-width="1.2"/><line x1="546.0" y1="400.50" x2="569.1" y2="400.50" stroke="#3c9f82" stroke-width="1.2"/><line x1="546.0" y1="402.60" x2="569.1" y2="402.60" stroke="#3c9f82" stroke-width="1.2"/><line x1="546.0" y1="404.50" x2="569.1" y2="404.50" stroke="#3c9f82" stroke-width="1.2"/><line x1="546.0" y1="406.40" x2="569.1" y2="406.40" stroke="#3c9f82" stroke-width="1.2"/><line x1="546.0" y1="413.50" x2="569.1" y2="413.50" stroke="#3c9f82" stroke-width="1.2"/><line x1="546.0" y1="428.60" x2="569.1" y2="428.60" stroke="#3c9f82" stroke-width="1.6"/><line x1="546.0" y1="429.60" x2="569.1" y2="429.60" stroke="#3c9f82" stroke-width="1.6"/><line x1="546.0" y1="430.50" x2="569.1" y2="430.50" stroke="#3c9f82" stroke-width="1.6"/><line x1="546.0" y1="434.50" x2="569.1" y2="434.50" stroke="#3c9f82" stroke-width="1.2"/><line x1="546.0" y1="437.60" x2="569.1" y2="437.60" stroke="#3c9f82" stroke-width="1.2"/><line x1="546.0" y1="451.30" x2="569.1" y2="451.30" stroke="#3c9f82" stroke-width="1.2"/><line x1="546.0" y1="468.50" x2="569.1" y2="468.50" stroke="#3c9f82" stroke-width="1.2"/></g>
<g><rect x="592.1" y="365.3" width="92.5" height="107.3" fill="#fff" stroke="#2a2a2a" stroke-width="0.9"/><text class="d" x="638.4" y="363.1" font-size="7.8" fill="#1a1a1a" text-anchor="middle">Sr₂Bi₂I₂O₄</text><line x1="590.2" y1="465.4" x2="592.1" y2="465.4" stroke="#2a2a2a" stroke-width="0.7"/><text class="d" x="589.3" y="467.6" font-size="6.1" fill="#262626" text-anchor="end">0</text><line x1="590.2" y1="439.8" x2="592.1" y2="439.8" stroke="#2a2a2a" stroke-width="0.7"/><text class="d" x="589.3" y="441.9" font-size="6.1" fill="#262626" text-anchor="end">100</text><line x1="590.2" y1="414.1" x2="592.1" y2="414.1" stroke="#2a2a2a" stroke-width="0.7"/><text class="d" x="589.3" y="416.3" font-size="6.1" fill="#262626" text-anchor="end">200</text><line x1="590.2" y1="388.4" x2="592.1" y2="388.4" stroke="#2a2a2a" stroke-width="0.7"/><text class="d" x="589.3" y="390.6" font-size="6.1" fill="#262626" text-anchor="end">300</text><line x1="596.6" y1="377.10" x2="619.6" y2="377.10" stroke="#1e1e1e" stroke-width="1.2"/><line x1="596.6" y1="379.20" x2="619.6" y2="379.20" stroke="#1e1e1e" stroke-width="1.2"/><line x1="596.6" y1="387.50" x2="619.6" y2="387.50" stroke="#1e1e1e" stroke-width="1.2" stroke-opacity="0.55"/><line x1="596.6" y1="395.50" x2="619.6" y2="395.50" stroke="#1e1e1e" stroke-width="1.4" stroke-opacity="0.60"/><line x1="596.6" y1="396.90" x2="619.6" y2="396.90" stroke="#1e1e1e" stroke-width="1.4" stroke-opacity="0.60"/><line x1="596.6" y1="402.10" x2="619.6" y2="402.10" stroke="#1e1e1e" stroke-width="1.2" stroke-opacity="0.55"/><line x1="596.6" y1="404.00" x2="619.6" y2="404.00" stroke="#1e1e1e" stroke-width="1.2" stroke-opacity="0.55"/><line x1="596.6" y1="408.80" x2="619.6" y2="408.80" stroke="#1e1e1e" stroke-width="1.4"/><line x1="596.6" y1="409.70" x2="619.6" y2="409.70" stroke="#1e1e1e" stroke-width="1.4"/><line x1="596.6" y1="412.30" x2="619.6" y2="412.30" stroke="#1e1e1e" stroke-width="1.2" stroke-opacity="0.55"/><line x1="596.6" y1="418.00" x2="619.6" y2="418.00" stroke="#1e1e1e" stroke-width="1.2"/><line x1="596.6" y1="419.90" x2="619.6" y2="419.90" stroke="#1e1e1e" stroke-width="1.2"/><line x1="596.6" y1="438.50" x2="619.6" y2="438.50" stroke="#1e1e1e" stroke-width="1.2" stroke-opacity="0.70"/><line x1="596.6" y1="440.20" x2="619.6" y2="440.20" stroke="#1e1e1e" stroke-width="1.2" stroke-opacity="0.70"/><line x1="596.6" y1="441.80" x2="619.6" y2="441.80" stroke="#1e1e1e" stroke-width="1.2" stroke-opacity="0.70"/><line x1="596.6" y1="443.50" x2="619.6" y2="443.50" stroke="#1e1e1e" stroke-width="1.2" stroke-opacity="0.70"/><line x1="596.6" y1="445.10" x2="619.6" y2="445.10" stroke="#1e1e1e" stroke-width="1.2" stroke-opacity="0.70"/><line x1="596.6" y1="450.50" x2="619.6" y2="450.50" stroke="#1e1e1e" stroke-width="1.2"/><line x1="596.6" y1="452.40" x2="619.6" y2="452.40" stroke="#1e1e1e" stroke-width="1.2"/><line x1="596.6" y1="465.20" x2="619.6" y2="465.20" stroke="#1e1e1e" stroke-width="1.2"/><line x1="626.9" y1="443.70" x2="649.7" y2="443.70" stroke="#e0444a" stroke-width="1.2"/><line x1="626.9" y1="447.50" x2="649.7" y2="447.50" stroke="#e0444a" stroke-width="1.2"/><line x1="626.9" y1="461.60" x2="649.7" y2="461.60" stroke="#e0444a" stroke-width="1.2"/><line x1="626.9" y1="465.20" x2="649.7" y2="465.20" stroke="#e0444a" stroke-width="1.2"/><line x1="626.9" y1="468.30" x2="649.7" y2="468.30" stroke="#e0444a" stroke-width="1.2"/><line x1="657.5" y1="370.50" x2="680.6" y2="370.50" stroke="#3c9f82" stroke-width="1.2"/><line x1="657.5" y1="375.50" x2="680.6" y2="375.50" stroke="#3c9f82" stroke-width="1.2"/><line x1="657.5" y1="376.60" x2="680.6" y2="376.60" stroke="#3c9f82" stroke-width="1.2"/><line x1="657.5" y1="380.90" x2="680.6" y2="380.90" stroke="#3c9f82" stroke-width="1.2"/><line x1="657.5" y1="395.30" x2="680.6" y2="395.30" stroke="#3c9f82" stroke-width="1.2"/><line x1="657.5" y1="398.10" x2="680.6" y2="398.10" stroke="#3c9f82" stroke-width="1.2"/><line x1="657.5" y1="401.40" x2="680.6" y2="401.40" stroke="#3c9f82" stroke-width="1.2"/><line x1="657.5" y1="405.00" x2="680.6" y2="405.00" stroke="#3c9f82" stroke-width="1.2"/><line x1="657.5" y1="410.20" x2="680.6" y2="410.20" stroke="#3c9f82" stroke-width="1.2"/><line x1="657.5" y1="426.50" x2="680.6" y2="426.50" stroke="#3c9f82" stroke-width="1.2"/><line x1="657.5" y1="427.60" x2="680.6" y2="427.60" stroke="#3c9f82" stroke-width="1.2"/><line x1="657.5" y1="430.20" x2="680.6" y2="430.20" stroke="#3c9f82" stroke-width="1.2"/><line x1="657.5" y1="433.50" x2="680.6" y2="433.50" stroke="#3c9f82" stroke-width="1.2"/><line x1="657.5" y1="441.60" x2="680.6" y2="441.60" stroke="#3c9f82" stroke-width="1.2"/><line x1="657.5" y1="449.10" x2="680.6" y2="449.10" stroke="#3c9f82" stroke-width="1.4"/><line x1="657.5" y1="450.50" x2="680.6" y2="450.50" stroke="#3c9f82" stroke-width="1.4"/><line x1="657.5" y1="453.60" x2="680.6" y2="453.60" stroke="#3c9f82" stroke-width="1.2"/><line x1="657.5" y1="462.40" x2="680.6" y2="462.40" stroke="#3c9f82" stroke-width="1.2"/></g>
</svg>
</body></html>
